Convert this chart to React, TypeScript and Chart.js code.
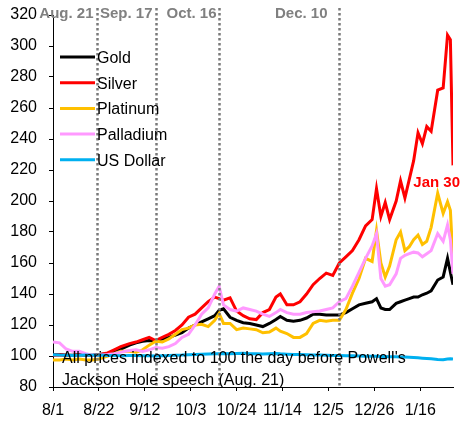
import { useEffect, useRef } from "react";
import { Chart, registerables } from "chart.js";

Chart.register(...registerables);

// Days since Aug 1 (2025)
const days = [0, 3, 6, 9, 12, 15, 18, 21, 25, 28, 31, 35, 38, 41, 44, 47, 50, 53, 56, 59, 62, 65, 68, 71, 74, 76, 78, 81, 84, 87, 90, 93, 96, 99, 102, 104, 107, 110, 113, 116, 119, 122, 125, 128, 131, 134, 137, 140, 143, 146, 148, 150, 152, 154, 157, 159, 161, 163, 165, 167, 169, 171, 173, 176, 178.5, 180.5, 181.8, 183];

const gold = [100.8, 101, 100.5, 100.5, 101, 100.5, 100.5, 101, 101.5, 102.5, 104.5, 107, 108.5, 109.5, 110, 109.5, 111, 112, 113.5, 115, 118, 120, 122, 124, 126, 129.5, 130.5, 125, 123, 121.5, 121, 120, 119, 121, 123.5, 125.5, 123, 122.5, 123, 124.5, 127, 127, 126.5, 126.5, 126.5, 128, 130.5, 133, 134, 135, 137, 131, 130, 130, 134, 135, 136, 137, 138, 138, 139.5, 140.5, 142, 149, 151, 163, 154, 146];

const silver = [100.5, 100.8, 100.5, 100.3, 100.8, 100.5, 100.3, 100.8, 102, 104, 106, 108, 109, 110.5, 112, 110, 112, 114, 116.5, 120, 125, 127, 131, 135, 138, 137, 136, 137.5, 129, 126, 124, 123.5, 128, 130, 138, 140, 133, 133, 135, 140, 146, 150, 153.5, 152, 160, 164, 168, 175, 184, 188, 208, 190, 199, 188, 200, 213, 202, 214, 226, 244, 237, 248, 245, 271.5, 273, 307, 304, 223];

const platinum = [97.5, 97.5, 98, 97.5, 98, 97.5, 97.5, 98, 100, 101.5, 103, 103, 102.5, 104, 107, 109.5, 109, 111, 114, 117, 118, 120, 120.5, 119, 123, 127.5, 121, 121, 117, 118, 117.5, 117, 115, 115.5, 118, 116, 114.5, 112, 112, 114.5, 121, 123, 122.5, 123, 123, 130, 140.6, 150, 163, 161, 181, 160, 151, 158, 175, 180, 168, 170.5, 175, 178, 172, 174, 183, 205, 192, 199.5, 194, 162];

const palladium = [109, 108.5, 104.5, 103, 103, 101.5, 100.5, 100.5, 101, 101.5, 102.5, 103.5, 104, 103, 104, 105.5, 105, 106, 108, 112, 114, 120, 127, 131, 140, 145, 133, 130, 129, 131, 130, 129, 127, 125.5, 128, 130, 128, 127, 127, 128, 128.5, 129, 130, 131, 135, 137, 145, 154, 163, 171, 179, 150, 145, 146, 153, 163, 165, 166, 167, 166.5, 164, 166, 168, 179, 174, 184.5, 175, 153];

const usDollar = [100.8, 100.6, 100.5, 100.3, 100.5, 100.7, 100.5, 100.6, 100.4, 100.3, 100.2, 100.4, 100.3, 100.2, 100.1, 100, 100.2, 100.3, 100.5, 100.6, 100.8, 101, 101.2, 101.3, 101.4, 101.5, 101.6, 101.5, 101.6, 101.7, 101.5, 101.4, 101.3, 101.5, 101.6, 101.4, 101.2, 101, 100.9, 100.8, 100.7, 100.6, 100.5, 100.4, 100.3, 100.2, 100.1, 100, 99.9, 99.8, 99.9, 99.7, 99.6, 99.5, 99.5, 99.4, 99.3, 99.2, 99, 98.8, 98.6, 98.4, 98.2, 97.8, 97.6, 98, 98.2, 98];

const seriesNames = ["Gold", "Silver", "Platinum", "Palladium", "US Dollar"];
const seriesColors = ["#000000", "#FF0000", "#FFC000", "#FF99FF", "#00B0F0"];
const seriesValues = [gold, silver, platinum, palladium, usDollar];

const tickDays = [0, 21, 42, 63, 84, 105, 126, 147, 168];
const yTicks = [80, 100, 120, 140, 160, 180, 200, 220, 240, 260, 280, 300, 320];

const eventDays = [20, 47, 76, 131];
const eventLabels = ["Aug. 21", "Sep. 17", "Oct. 16", "Dec. 10"];

const noteLines = [
  "All prices indexed to 100 the day before Powell's",
  "Jackson Hole speech (Aug. 21)",
];
const endLabel = "Jan 30";

const FONT = '"Liberation Sans", Arial, sans-serif';

function dayLabel(v: number): string {
  const d = new Date(2025, 7, 1 + v);
  return `${d.getMonth() + 1}/${d.getDate()}`;
}

const overlayPlugin = {
  id: "overlay",
  afterDatasetsDraw(chart: any) {
    const { ctx, chartArea, scales } = chart;
    const x = scales.x;
    const y = scales.y;
    ctx.save();
    // vertical dotted event lines
    ctx.strokeStyle = "#7a7a7a";
    ctx.lineWidth = 2.5;
    ctx.setLineDash([2.5, 2.5]);
    const gaps = [4, 4, 3, 12];
    const pxs: number[] = [];
    eventDays.forEach((d) => {
      const px = Math.round(x.getPixelForValue(d)) + 0.5;
      pxs.push(px);
      ctx.beginPath();
      ctx.moveTo(px, 8);
      ctx.lineTo(px, chartArea.bottom);
      ctx.stroke();
    });
    ctx.setLineDash([]);
    ctx.font = `bold 15px ${FONT}`;
    ctx.fillStyle = "#808080";
    ctx.textAlign = "right";
    ctx.textBaseline = "alphabetic";
    eventLabels.forEach((t, i) => {
      ctx.fillText(t, pxs[i] - gaps[i], 18);
    });

    // legend
    ctx.font = `16px ${FONT}`;
    ctx.textAlign = "left";
    seriesNames.forEach((n, i) => {
      const ry = 57 + i * 25.7;
      ctx.strokeStyle = seriesColors[i];
      ctx.lineWidth = 3;
      ctx.beginPath();
      ctx.moveTo(60, ry);
      ctx.lineTo(95, ry);
      ctx.stroke();
      ctx.fillStyle = "#000";
      ctx.fillText(n, 97, ry + 6);
    });

    // note
    ctx.fillStyle = "#000";
    ctx.font = `16px ${FONT}`;
    ctx.fillText(noteLines[0], 62, 362.5);
    ctx.fillText(noteLines[1], 62, 384.5);

    // end label
    const lastI = days.length - 1;
    const lx = x.getPixelForValue(days[lastI]);
    const ly = y.getPixelForValue(silver[lastI]);
    ctx.font = `bold 15px ${FONT}`;
    ctx.fillStyle = "#FF0000";
    ctx.textAlign = "right";
    ctx.fillText(endLabel, lx + 7, ly + 22);
    ctx.restore();
  },
};

export default function App() {
  const ref = useRef<HTMLCanvasElement | null>(null);
  useEffect(() => {
    document.body.style.margin = "0";
    if (!ref.current) return;
    const chart = new Chart(ref.current, {
      type: "line",
      data: {
        datasets: seriesNames.map((n, i) => ({
          label: n,
          data: days.map((d, k) => ({ x: d, y: seriesValues[i][k] })),
          borderColor: seriesColors[i],
          backgroundColor: seriesColors[i],
          borderWidth: 3,
          pointRadius: 0,
          tension: 0,
          order: 5 - i,
        })),
      },
      options: {
        animation: false,
        responsive: false,
        events: [],
        layout: { padding: { top: 15, right: 17, left: 0, bottom: 0 } },
        plugins: { legend: { display: false }, tooltip: { enabled: false } },
        scales: {
          x: {
            type: "linear",
            min: 0,
            max: 183,
            afterBuildTicks: (s: any) => {
              s.ticks = tickDays.map((v) => ({ value: v }));
            },
            afterFit: (s: any) => {
              s.height = 36;
              s.paddingLeft = 0;
              s.paddingRight = 0;
            },
            ticks: {
              callback: (v: any) => dayLabel(Number(v)),
              font: { family: FONT, size: 16 },
              color: "#000",
              padding: 10,
              maxRotation: 0,
              autoSkip: false,
            },
            grid: { drawOnChartArea: false, drawTicks: true, tickLength: 4, color: "#000" },
            border: { color: "#000", width: 1 },
          },
          y: {
            min: 80,
            max: 320,
            afterBuildTicks: (s: any) => {
              s.ticks = yTicks.map((v) => ({ value: v }));
            },
            afterFit: (s: any) => {
              s.width = 53;
              s.paddingTop = 0;
              s.paddingBottom = 0;
            },
            ticks: {
              font: { family: FONT, size: 16 },
              color: "#000",
              padding: 12,
            },
            grid: { drawOnChartArea: false, drawTicks: true, tickLength: 4, color: "#000" },
            border: { color: "#000", width: 1 },
          },
        },
      },
      plugins: [overlayPlugin],
    });
    return () => chart.destroy();
  }, []);
  return (
    <div style={{ width: 470, height: 423, position: "relative", background: "#fff" }}>
      <canvas ref={ref} width={470} height={423} />
    </div>
  );
}
